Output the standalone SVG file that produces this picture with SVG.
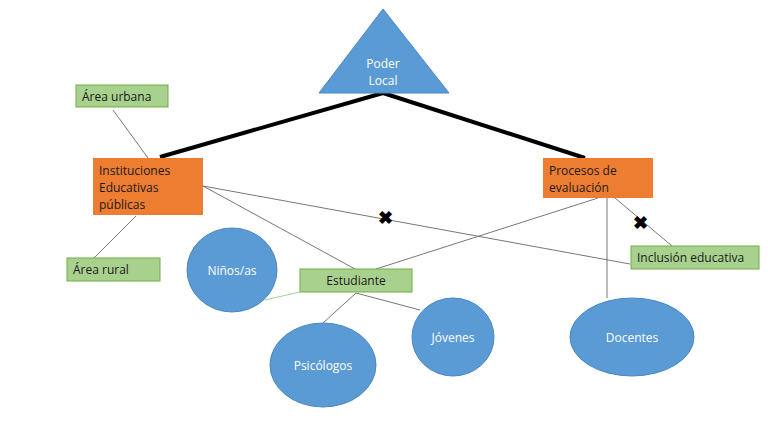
<svg xmlns="http://www.w3.org/2000/svg" width="768" height="433" viewBox="0 0 768 433">
<style>
.g{fill:#A9D18E;stroke:#70AD47;stroke-width:1}
.o{fill:#ED7D31}
.b{fill:#5B9BD5;stroke:#4A86BE;stroke-width:1}
text{font-family:"Open Sans","Liberation Sans",sans-serif;font-size:12px;fill:#1a1a1a}
.w{fill:#fff;text-anchor:middle}
.l{stroke:#777;stroke-width:1;fill:none}
.t{stroke:#000;stroke-width:4;fill:none}
.x{font-size:18px;font-weight:bold;fill:#000;text-anchor:middle}
</style>
<rect width="768" height="433" fill="#fff"/>
<g id="connectors">
<line class="t" x1="383" y1="93" x2="160" y2="157"/>
<line class="t" x1="383" y1="93" x2="585" y2="158"/>
<line class="l" x1="113" y1="110" x2="148" y2="158"/>
<line class="l" x1="136" y1="216" x2="94" y2="258"/>
<line class="l" x1="203" y1="186" x2="355" y2="269"/>
<line class="l" x1="203" y1="186" x2="630" y2="264"/>
<line class="l" x1="598" y1="198" x2="376" y2="269"/>
<line class="l" x1="607" y1="197" x2="607" y2="298"/>
<line class="l" x1="615" y1="198" x2="672" y2="246"/>
<line class="l" x1="356" y1="293" x2="323" y2="323"/>
<line class="l" x1="356" y1="293" x2="420" y2="310"/>
<line stroke="#A9D18E" stroke-width="1" x1="300" y1="292" x2="265" y2="300"/>
<text class="x" x="385" y="224">✖</text>
<text class="x" x="640" y="229">✖</text>
</g>
<g id="poder"><polygon class="b" points="383,9 319,93 449,93"/><text class="w" x="383" y="68">Poder</text><text class="w" x="383" y="85">Local</text></g>
<g id="urbana"><rect class="g" x="76" y="85" width="92" height="22"/><text x="82" y="101">Área urbana</text></g>
<g id="inst"><rect class="o" x="93" y="158" width="110" height="57"/><text x="99" y="175">Instituciones</text><text x="99" y="192">Educativas</text><text x="99" y="209">públicas</text></g>
<g id="rural"><rect class="g" x="67" y="258" width="93" height="23"/><text x="73" y="274">Área rural</text></g>
<g id="procesos"><rect class="o" x="543" y="158" width="110" height="40"/><text x="549" y="175">Procesos de</text><text x="549" y="192">evaluación</text></g>
<g id="inclusion"><rect class="g" x="631" y="246" width="128" height="23"/><text x="637" y="262">Inclusión educativa</text></g>
<g id="ninos"><ellipse class="b" cx="232" cy="270" rx="45" ry="42"/><text class="w" x="232" y="275">Niños/as</text></g>
<g id="estudiante"><rect class="g" x="300" y="269" width="112" height="23"/><text x="356" y="285" text-anchor="middle">Estudiante</text></g>
<g id="psicologos"><ellipse class="b" cx="323" cy="365" rx="53" ry="42"/><text class="w" x="323" y="370">Psicólogos</text></g>
<g id="jovenes"><ellipse class="b" cx="453" cy="337" rx="41" ry="39"/><text class="w" x="453" y="342">Jóvenes</text></g>
<g id="docentes"><ellipse class="b" cx="632" cy="337" rx="62" ry="39"/><text class="w" x="632" y="342">Docentes</text></g>
</svg>
